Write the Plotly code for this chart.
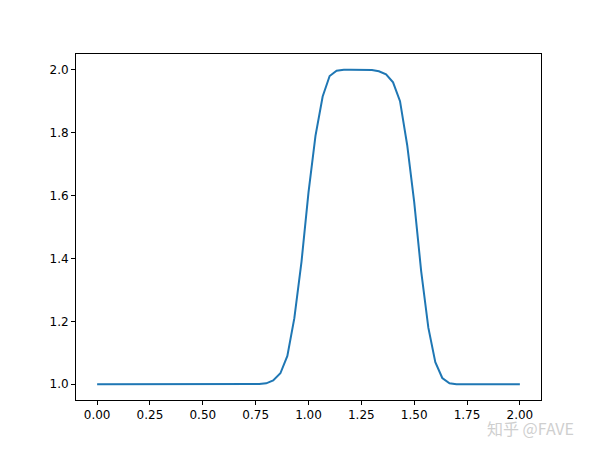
import plotly.graph_objects as go

# grid points (dx = 1/30)
x_vals = [0.000, 0.033, 0.067, 0.100, 0.133, 0.167, 0.200, 0.233, 0.267, 0.300,
          0.333, 0.367, 0.400, 0.433, 0.467, 0.500, 0.533, 0.567, 0.600, 0.633,
          0.667, 0.700, 0.733, 0.767, 0.800, 0.833, 0.867, 0.900, 0.933, 0.967,
          1.000, 1.033, 1.067, 1.100, 1.133, 1.167, 1.200, 1.233, 1.267, 1.300,
          1.333, 1.367, 1.400, 1.433, 1.467, 1.500, 1.533, 1.567, 1.600, 1.633,
          1.667, 1.700, 1.733, 1.767, 1.800, 1.833, 1.867, 1.900, 1.933, 1.967,
          2.000]
u_vals = [1.0, 1.0, 1.0, 1.0, 1.0, 1.0, 1.0, 1.0, 1.0, 1.0,
          1.0, 1.0, 1.0, 1.0, 1.0, 1.0, 1.0, 1.0, 1.0, 1.0,
          1.0, 1.0, 1.0, 1.001, 1.003, 1.012, 1.035, 1.09, 1.21, 1.39,
          1.61, 1.79, 1.915, 1.98, 1.997, 2.0, 2.0, 2.0, 2.0, 1.999,
          1.995, 1.985, 1.96, 1.90, 1.76, 1.58, 1.36, 1.18, 1.07, 1.02,
          1.003, 1.0, 1.0, 1.0, 1.0, 1.0, 1.0, 1.0, 1.0, 1.0,
          1.0]

x_ticks = [0.0, 0.25, 0.5, 0.75, 1.0, 1.25, 1.5, 1.75, 2.0]
y_ticks = [1.0, 1.2, 1.4, 1.6, 1.8, 2.0]

fig = go.Figure(go.Scatter(x=x_vals, y=u_vals, mode='lines',
                           line=dict(color='#1f77b4', width=2)))

axis_style = dict(showline=True, linecolor='black', linewidth=1, mirror=True,
                  ticks='outside', ticklen=4, tickcolor='black', showgrid=False,
                  zeroline=False, tickfont=dict(family='DejaVu Sans', size=12, color='black'))

# the page body has an 8px margin, so the plot box is shifted back by 8px
fig.update_layout(
    width=600, height=450,
    margin=dict(l=68, r=67, t=46, b=58),
    paper_bgcolor='white', plot_bgcolor='white',
    showlegend=False,
    xaxis=dict(range=[-0.1, 2.1], tickvals=x_ticks,
               ticktext=['%.2f' % v for v in x_ticks], **axis_style),
    yaxis=dict(range=[0.95, 2.05], tickvals=y_ticks,
               ticktext=['%.1f' % v for v in y_ticks], **axis_style),
    annotations=[dict(text='知乎 @FAVE', x=(530 - 76) / 465, y=(400 - 428) / 346,
                      xref='paper', yref='paper', xanchor='center', yanchor='middle',
                      showarrow=False,
                      font=dict(family='Noto Sans CJK SC', size=16, color='#cfcfcf'))],
)

fig.write_html("out.html")
